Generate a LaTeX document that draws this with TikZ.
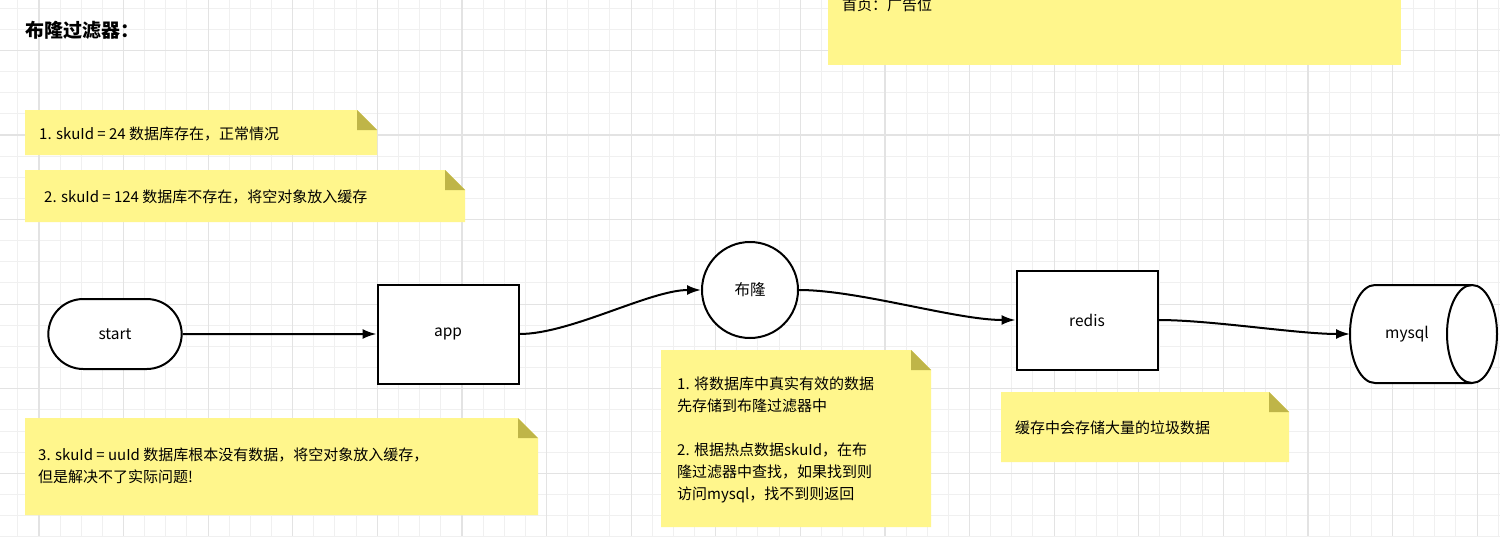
\documentclass[tikz,border=0pt]{standalone}
\usepackage{fontspec}
\setmainfont{Noto Sans CJK SC}
\usetikzlibrary{arrows.meta,shapes.misc}
\definecolor{notey}{HTML}{FFF68C}
\definecolor{notef}{HTML}{BFB548}
\tikzset{
  box/.style={draw,line width=2pt,fill=white,font=\fontsize{15.5}{18}\selectfont},
  conn/.style={line width=2pt,-{Latex[length=14pt,width=10pt]}},
  txt/.style={anchor=west,align=left,font=\fontsize{15}{22}\selectfont,inner sep=0pt}
}
\newcommand{\stickynote}[4]{% x0 y0 x1 y1
  \fill[notey] (#1,#2) -- (#3-20,#2) -- (#3,#2+20) -- (#3,#4) -- (#1,#4) -- cycle;
  \fill[notef] (#3-20,#2) -- (#3,#2+20) -- (#3-20,#2+20) -- cycle;}
\begin{document}
\begin{tikzpicture}[x=1pt,y=-1pt]
\useasboundingbox (0,0) rectangle (1500,536);
\clip (0,0) rectangle (1500,536);
\fill[white] (0,0) rectangle (1500,536);
\foreach \i in {0,...,71} {\draw[gray!12,line width=1pt] ({17.7+\i*21.15},0) -- ++(0,536);}
\foreach \i in {0,...,26} {\draw[gray!12,line width=1pt] (0,{8+\i*21.15}) -- ++(1500,0);}
\foreach \i in {0,...,17} {\draw[gray!22,line width=1.2pt] ({39+\i*84.6},0) -- ++(0,536);}
\foreach \i in {0,...,6} {\draw[gray!22,line width=1.2pt] (0,{50.3+\i*84.6}) -- ++(1500,0);}

\node[anchor=west,font=\fontsize{19}{22}\selectfont\bfseries,inner sep=0pt] (title) at (25,30) {布隆过滤器：};

\fill[notey] (828,-5) rectangle (1401,65);
\node[txt] (top) at (842,5) {首页：广告位};

\stickynote{25}{110}{377}{155}
\node[txt] (n1) at (39,134) {1. skuId = 24 数据库存在，正常情况};
\stickynote{25}{170}{465}{222}
\node[txt] (n2) at (44,197) {2. skuId = 124 数据库不存在，将空对象放入缓存};
\stickynote{25}{418}{538}{515}
\node[txt] (n3) at (38,466) {3. skuId = uuId 数据库根本没有数据，将空对象放入缓存，\\但是解决不了实际问题!};
\stickynote{661}{350}{931}{527}
\node[txt] (n4) at (677,440) {1. 将数据库中真实有效的数据\\先存储到布隆过滤器中\\[22pt]2. 根据热点数据skuId，在布\\隆过滤器中查找，如果找到则\\访问mysql，找不到则返回};
\stickynote{1001}{392}{1289}{462}
\node[txt] (n5) at (1015,428) {缓存中会存储大量的垃圾数据};

\node[box,rounded rectangle,minimum width=140pt,minimum height=70pt] (start) at (115,334) {start};
\node[box,rectangle,minimum width=141pt,minimum height=99pt] (app) at (448,334) {app};
\node[box,circle,minimum size=96pt] (bl) at (750,290) {布隆};
\node[box,rectangle,minimum width=141pt,minimum height=99pt] (redis) at (1087,320) {redis};
\coordinate (mw) at (1350,334);
\draw[line width=2pt,fill=white] (1375,285) -- (1472,285) arc[start angle=-90,end angle=90,x radius=25,y radius=49] -- (1375,383) arc[start angle=90,end angle=270,x radius=25,y radius=49] -- cycle;
\draw[line width=2pt] (1472,285) arc[start angle=-90,end angle=-270,x radius=25,y radius=49];
\node[font=\fontsize{15.5}{18}\selectfont] (mysql) at (1407,334) {mysql};

\draw[conn] (start) -- (app);
\draw[conn] (app.east) to[out=0,in=180,looseness=0.7] (bl.west);
\draw[conn] (bl.east) to[out=0,in=180,looseness=0.7] (redis.west);
\draw[conn] (redis.east) to[out=0,in=180,looseness=0.7] (mw);
\end{tikzpicture}
\end{document}
